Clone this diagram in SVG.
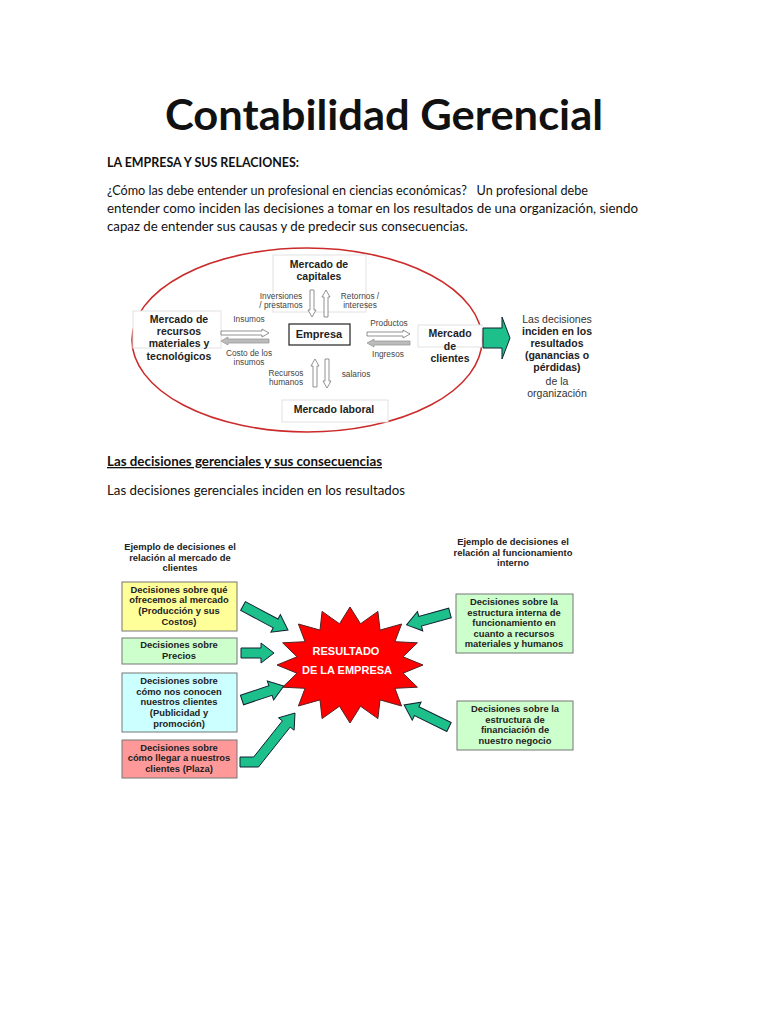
<svg xmlns="http://www.w3.org/2000/svg" width="768" height="1024" viewBox="0 0 768 1024">
<style>
.doc{font-family:Lato,"Open Sans","Liberation Sans",sans-serif;fill:#111}
.title{font-size:42px;font-weight:700;text-anchor:middle}
.h{font-size:13px;font-weight:700}
.p{font-size:14px}
.d1{font-family:"Liberation Sans",Arial,sans-serif;fill:#222;text-anchor:middle}
.b1{font-size:10.5px;font-weight:700}
.s1{font-size:8.3px;fill:#444}
.r1{font-size:10.5px;fill:#333}
.r1b{font-size:10.5px;font-weight:700;fill:#222}
.d2{font-family:"Liberation Sans",Arial,sans-serif;font-size:9.4px;font-weight:700;fill:#222;text-anchor:middle}
.star{font-family:"Liberation Sans",Arial,sans-serif;font-size:11px;font-weight:700;fill:#fff;text-anchor:middle}
.mk{fill:#fff;stroke:#e2e2e2;stroke-width:1}
.ta{fill:#fff;stroke:#777;stroke-width:0.8}
.tg{fill:#bbb;stroke:#999;stroke-width:0.8}
.ga{fill:#1dbf8b;stroke:#123;stroke-width:1}
.bx{stroke:#777;stroke-width:1}
</style>

<text class="doc title" x="384" y="130" textLength="438" lengthAdjust="spacingAndGlyphs">Contabilidad Gerencial</text>
<text class="doc h" x="107" y="167" textLength="192" lengthAdjust="spacingAndGlyphs">LA EMPRESA Y SUS RELACIONES:</text>
<text class="doc p" x="107" y="195" xml:space="preserve" textLength="481" lengthAdjust="spacingAndGlyphs">¿Cómo las debe entender un profesional en ciencias económicas?   Un profesional debe</text>
<text class="doc p" x="107" y="213" textLength="531" lengthAdjust="spacingAndGlyphs">entender como inciden las decisiones a tomar en los resultados de una organización, siendo</text>
<text class="doc p" x="107" y="231" textLength="361" lengthAdjust="spacingAndGlyphs">capaz de entender sus causas y de predecir sus consecuencias.</text>

<!-- Diagram 1 -->
<g id="ellipse"><ellipse cx="307" cy="340" rx="175" ry="92" fill="none" stroke="#cc2b2b" stroke-width="1.6"/></g>

<g id="mercado-capitales">
<rect class="mk" x="273" y="255" width="93" height="57"/>
<text class="d1 b1" x="319" y="268">Mercado de</text>
<text class="d1 b1" x="319" y="280">capitales</text>
</g>
<g id="mercado-recursos">
<rect class="mk" x="133" y="311" width="88" height="37"/>
<text class="d1 b1" x="179" y="323">Mercado de</text>
<text class="d1 b1" x="179" y="335">recursos</text>
<text class="d1 b1" x="179" y="347">materiales y</text>
<text class="d1 b1" x="179" y="360">tecnológicos</text>
</g>
<g id="empresa">
<rect x="289" y="324" width="61" height="21" fill="#fff" stroke="#222" stroke-width="1.2"/>
<text class="d1" x="319" y="338" font-size="11" font-weight="700">Empresa</text>
</g>
<g id="mercado-laboral">
<rect class="mk" x="282" y="400" width="106" height="22"/>
<text class="d1 b1" x="334" y="413">Mercado laboral</text>
</g>
<g id="mercado-clientes">
<rect class="mk" x="418" y="325" width="64" height="22"/>
<text class="d1 b1" x="450" y="337">Mercado</text>
<text class="d1 b1" x="450" y="350">de</text>
<text class="d1 b1" x="450" y="362">clientes</text>
</g>
<g id="labels1">
<text class="d1 s1" x="281" y="299">Inversiones</text>
<text class="d1 s1" x="281" y="308">/  prestamos</text>
<text class="d1 s1" x="360" y="299">Retornos /</text>
<text class="d1 s1" x="360" y="308">intereses</text>
<text class="d1 s1" x="249" y="322">Insumos</text>
<text class="d1 s1" x="249" y="356">Costo de los</text>
<text class="d1 s1" x="249" y="365">insumos</text>
<text class="d1 s1" x="286" y="376">Recursos</text>
<text class="d1 s1" x="286" y="385">humanos</text>
<text class="d1 s1" x="356" y="377">salarios</text>
<text class="d1 s1" x="389" y="326">Productos</text>
<text class="d1 s1" x="388" y="357">Ingresos</text>
</g>
<g id="conclusion">
<text class="d1 r1" x="557" y="323">Las decisiones</text>
<text class="d1 r1b" x="557" y="335">inciden en los</text>
<text class="d1 r1b" x="557" y="347">resultados</text>
<text class="d1 r1b" x="557" y="359">(ganancias o</text>
<text class="d1 r1b" x="557" y="371">pérdidas)</text>
<text class="d1 r1" x="557" y="385">de la</text>
<text class="d1 r1" x="557" y="397">organización</text>
</g>
<g id="connectors1">
<path class="ta" d="M310,290 V310 H308 L312,317 L316,310 H314 V290 Z"/>
<path class="ta" d="M324,317 V297 H322 L326,290 L330,297 H328 V317 Z"/>
<path class="ta" d="M221,331 H262 V329 L269,333 L262,337 V335 H221 Z"/>
<path class="tg" d="M269,339 H228 V337 L221,341 L228,345 V343 H269 Z"/>
<path class="ta" d="M313,387 V366 H311 L315,359 L319,366 H317 V387 Z"/>
<path class="ta" d="M325,359 V381 H323 L327,388 L331,381 H329 V359 Z"/>
<path class="ta" d="M367,332 H403 V330 L410,334 L403,338 V336 H367 Z"/>
<path class="tg" d="M410,341 H374 V339 L367,343 L374,347 V345 H410 Z"/>
<path class="ga" d="M483,328 H502 V317 L510,338 L502,359 V348 H483 Z"/>
</g>

<text class="doc h" x="107" y="466" text-decoration="underline" textLength="275" lengthAdjust="spacingAndGlyphs">Las decisiones gerenciales y sus consecuencias</text>
<text class="doc p" x="107" y="495" textLength="298" lengthAdjust="spacingAndGlyphs">Las decisiones gerenciales inciden en los resultados</text>

<!-- Diagram 2 -->
<g id="caption-left">
<text class="d2" x="180" y="550">Ejemplo de decisiones el</text>
<text class="d2" x="180" y="561">relación al mercado de</text>
<text class="d2" x="180" y="571">clientes</text>
</g>
<g id="caption-right">
<text class="d2" x="513" y="545">Ejemplo de decisiones el</text>
<text class="d2" x="513" y="556">relación al funcionamiento</text>
<text class="d2" x="513" y="566">interno</text>
</g>
<g id="box-producto">
<rect class="bx" x="122" y="582" width="115" height="49" fill="#ffff99"/>
<text class="d2" x="179" y="593">Decisiones sobre qué</text>
<text class="d2" x="179" y="603">ofrecemos al mercado</text>
<text class="d2" x="179" y="614">(Producción y sus</text>
<text class="d2" x="179" y="625">Costos)</text>
</g>
<g id="box-precios">
<rect class="bx" x="122" y="638" width="115" height="26" fill="#ccffcc"/>
<text class="d2" x="179" y="648">Decisiones sobre</text>
<text class="d2" x="179" y="659">Precios</text>
</g>
<g id="box-promocion">
<rect class="bx" x="122" y="673" width="115" height="59" fill="#ccffff"/>
<text class="d2" x="179" y="684">Decisiones sobre</text>
<text class="d2" x="179" y="695">cómo nos conocen</text>
<text class="d2" x="179" y="705">nuestros clientes</text>
<text class="d2" x="179" y="716">(Publicidad y</text>
<text class="d2" x="179" y="727">promoción)</text>
</g>
<g id="box-plaza">
<rect class="bx" x="122" y="740" width="115" height="38" fill="#ff9999"/>
<text class="d2" x="179" y="751">Decisiones sobre</text>
<text class="d2" x="179" y="761">cómo llegar a nuestros</text>
<text class="d2" x="179" y="772">clientes (Plaza)</text>
</g>
<g id="box-interna">
<rect class="bx" x="456" y="594" width="117" height="59" fill="#ccffcc"/>
<text class="d2" x="514" y="605">Decisiones sobre la</text>
<text class="d2" x="514" y="615.5">estructura interna de</text>
<text class="d2" x="514" y="626">funcionamiento en</text>
<text class="d2" x="514" y="636.5">cuanto a recursos</text>
<text class="d2" x="514" y="647">materiales y humanos</text>
</g>
<g id="box-financiacion">
<rect class="bx" x="457" y="701" width="116" height="49" fill="#ccffcc"/>
<text class="d2" x="515" y="712">Decisiones sobre la</text>
<text class="d2" x="515" y="723">estructura de</text>
<text class="d2" x="515" y="733">financiación de</text>
<text class="d2" x="515" y="744">nuestro negocio</text>
</g>
<g id="resultado">
<polygon fill="#ff0000" stroke="#552222" stroke-width="1" points="350,607 360.5,623.8 377.9,611.4 380,630.1 401.6,624 394.9,641.7 417.4,642.8 403,656.8 423,665 403,673.2 417.4,687.2 394.9,688.3 401.6,706 380,699.9 377.9,718.6 360.5,706.2 350,723 339.5,706.2 322.1,718.6 320,699.9 298.4,706 305.1,688.3 282.6,687.2 297,673.2 277,665 297,656.8 282.6,642.8 305.1,641.7 298.4,624 320,630.1 322.1,611.4 339.5,623.8"/>
<text class="star" x="346" y="655">RESULTADO</text>
<text class="star" x="347" y="674">DE LA EMPRESA</text>
</g>
<g id="connectors2">
<path class="ga" transform="translate(243,606) rotate(28.1)" d="M0,-5 H37 V-10 L51,0 L37,10 V5 H0 Z"/>
<path class="ga" transform="translate(241,653)" d="M0,-5 H20 V-10 L33,0 L20,10 V5 H0 Z"/>
<path class="ga" transform="translate(242,700) rotate(-18.4)" d="M0,-5 H30 V-10 L44,0 L30,10 V5 H0 Z"/>
<path class="ga" d="M240,757 L253.7,757 L282.4,720.9 L278.5,717.8 L295,713 L294.1,730.2 L290.2,727.1 L258.5,767 L240,767 Z"/>
<path class="ga" transform="translate(450,613) rotate(164.7)" d="M0,-5 H31 V-10 L45,0 L31,10 V5 H0 Z"/>
<path class="ga" transform="translate(449,727) rotate(206.1)" d="M0,-5 H36 V-10 L50,0 L36,10 V5 H0 Z"/>
</g>
</svg>
